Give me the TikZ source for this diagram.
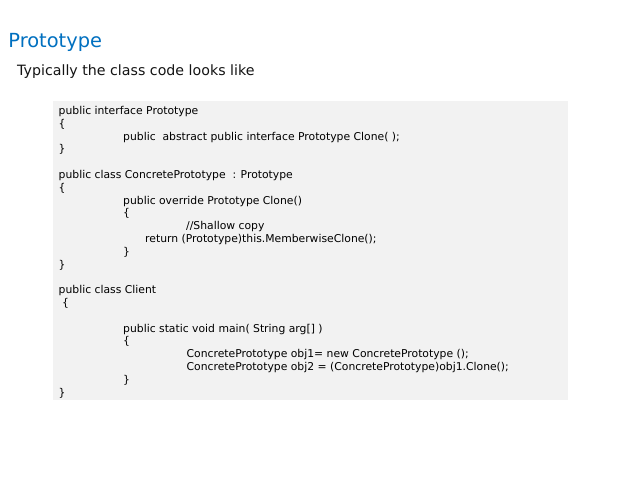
\documentclass[tikz,border=0pt]{standalone}
\usepackage{fontspec}
\setmainfont{DejaVu Sans}
\definecolor{titleblue}{RGB}{0,112,192}
\definecolor{codebg}{RGB}{242,242,242}
\definecolor{subtext}{RGB}{20,20,20}
\begin{document}
\begin{tikzpicture}[x=1pt,y=-1pt,
  code/.style={anchor=base west, inner sep=0pt, text=black, font=\fontsize{10.8}{12}\selectfont},
  titletext/.style={anchor=base west, inner sep=0pt, text=titleblue, font=\fontsize{19.4}{22}\selectfont},
  subtitletext/.style={anchor=base west, inner sep=0pt, text=subtext, font=\fontsize{14.2}{17}\selectfont}]
\useasboundingbox (0,0) rectangle (638,478);
\fill[white] (0,0) rectangle (638,478);
\node[titletext] (title) at (8.2,47.3) {Prototype};
\node[subtitletext] (subtitle) at (17,76) {Typically the class code looks like};
\fill[codebg] (53,101) rectangle (568,400);
\def\L#1{114.5+12.8*(#1-1)}
\node[code] (l1) at (58.5,{\L{1}}) {public interface Prototype};
\node[code] (l2) at (58.5,{\L{2}}) {\{};
\node[code] (l3) at (123,{\L{3}}) {public\ \ abstract public interface Prototype Clone( );};
\node[code] (l4) at (58.5,{\L{4}}) {\}};
\node[code] (l6) at (58.5,{\L{6}}) {public class ConcretePrototype\ \ : Prototype};
\node[code] (l7) at (58.5,{\L{7}}) {\{};
\node[code] (l8) at (123,{\L{8}}) {public override Prototype Clone()};
\node[code] (l9) at (123,{\L{9}}) {\{};
\node[code] (l10) at (186,{\L{10}}) {//Shallow copy};
\node[code] (l11) at (145,{\L{11}}) {return (Prototype)this.MemberwiseClone();};
\node[code] (l12) at (123,{\L{12}}) {\}};
\node[code] (l13) at (58.5,{\L{13}}) {\}};
\node[code] (l15) at (58.5,{\L{15}}) {public class Client};
\node[code] (l16) at (58.5,{\L{16}}) {\ \{};
\node[code] (l18) at (123,{\L{18}}) {public static void main( String arg[] )};
\node[code] (l19) at (123,{\L{19}}) {\{};
\node[code] (l20) at (186.5,{\L{20}}) {ConcretePrototype obj1= new ConcretePrototype ();};
\node[code] (l21) at (186.5,{\L{21}}) {ConcretePrototype obj2 = (ConcretePrototype)obj1.Clone();};
\node[code] (l22) at (123,{\L{22}}) {\}};
\node[code] (l23) at (58.5,{\L{23}}) {\}};
\end{tikzpicture}
\end{document}
